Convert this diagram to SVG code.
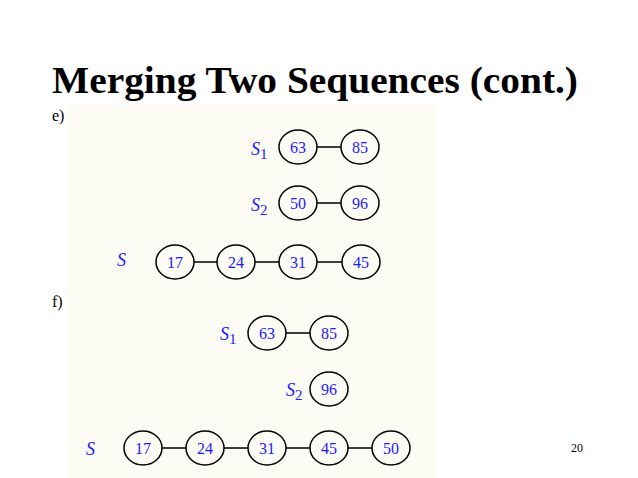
<svg xmlns="http://www.w3.org/2000/svg" width="638" height="478" viewBox="0 0 638 478">
<style>
.n ellipse{fill:none;stroke:#000;stroke-width:1.5}
.n text,.v{font-family:"Liberation Serif",serif;font-size:16px;fill:#1a1aff;text-anchor:middle}
.lb{font-family:"Liberation Serif",serif;font-size:18px;font-style:italic;fill:#1a1aff}
.sub{font-size:15px;font-style:normal}
.c line{stroke:#000;stroke-width:1.5}
</style>
<rect width="638" height="478" fill="#fff"/>
<rect x="66" y="104" width="370" height="374" fill="#fcfcf4"/>
<text x="52" y="93" font-family="Liberation Serif,serif" font-weight="bold" font-size="38" textLength="526" lengthAdjust="spacingAndGlyphs">Merging Two Sequences (cont.)</text>
<text x="52" y="121" font-family="Liberation Serif,serif" font-size="16">e)</text>
<text x="52" y="307" font-family="Liberation Serif,serif" font-size="16">f)</text>
<text x="577" y="452" text-anchor="middle" font-family="Liberation Serif,serif" font-size="12">20</text>
<text class="lb" x="251" y="155">S<tspan class="sub" dy="4">1</tspan></text>
<text class="lb" x="251" y="211">S<tspan class="sub" dy="4">2</tspan></text>
<text class="lb" x="117" y="266">S</text>
<text class="lb" x="220" y="340">S<tspan class="sub" dy="4">1</tspan></text>
<text class="lb" x="286" y="396">S<tspan class="sub" dy="4">2</tspan></text>
<text class="lb" x="86" y="455">S</text>
<g class="c">
<line x1="317" y1="147" x2="341" y2="147"/>
<line x1="317" y1="203" x2="341" y2="203"/>
<line x1="194" y1="262" x2="217" y2="262"/>
<line x1="255" y1="262" x2="279" y2="262"/>
<line x1="317" y1="262" x2="342" y2="262"/>
<line x1="286" y1="333" x2="310" y2="333"/>
<line x1="162" y1="448" x2="186" y2="448"/>
<line x1="224" y1="448" x2="248" y2="448"/>
<line x1="286" y1="448" x2="310" y2="448"/>
<line x1="348" y1="448" x2="372" y2="448"/>
</g>
<g id="e63" class="n"><ellipse cx="298" cy="147" rx="19" ry="17"/><text x="298" y="153">63</text></g>
<g id="e85" class="n"><ellipse cx="360" cy="147" rx="19" ry="17"/><text x="360" y="153">85</text></g>
<g id="e50" class="n"><ellipse cx="298" cy="203" rx="19" ry="17"/><text x="298" y="209">50</text></g>
<g id="e96" class="n"><ellipse cx="360" cy="203" rx="19" ry="17"/><text x="360" y="209">96</text></g>
<g id="e17" class="n"><ellipse cx="175" cy="262" rx="19" ry="17"/><text x="175" y="268">17</text></g>
<g id="e24" class="n"><ellipse cx="236" cy="262" rx="19" ry="17"/><text x="236" y="268">24</text></g>
<g id="e31" class="n"><ellipse cx="298" cy="262" rx="19" ry="17"/><text x="298" y="268">31</text></g>
<g id="e45" class="n"><ellipse cx="361" cy="262" rx="19" ry="17"/><text x="361" y="268">45</text></g>
<g id="f63" class="n"><ellipse cx="267" cy="333" rx="19" ry="17"/><text x="267" y="339">63</text></g>
<g id="f85" class="n"><ellipse cx="329" cy="333" rx="19" ry="17"/><text x="329" y="339">85</text></g>
<g id="f96" class="n"><ellipse cx="329" cy="389" rx="19" ry="17"/><text x="329" y="395">96</text></g>
<g id="f17" class="n"><ellipse cx="143" cy="448" rx="19" ry="17"/><text x="143" y="454">17</text></g>
<g id="f24" class="n"><ellipse cx="205" cy="448" rx="19" ry="17"/><text x="205" y="454">24</text></g>
<g id="f31" class="n"><ellipse cx="267" cy="448" rx="19" ry="17"/><text x="267" y="454">31</text></g>
<g id="f45" class="n"><ellipse cx="329" cy="448" rx="19" ry="17"/><text x="329" y="454">45</text></g>
<g id="f50" class="n"><ellipse cx="391" cy="448" rx="19" ry="17"/><text x="391" y="454">50</text></g>
</svg>
